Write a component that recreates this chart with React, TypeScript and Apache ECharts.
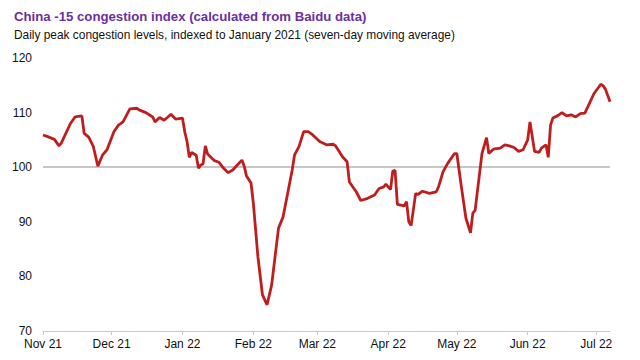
import React, { useEffect, useRef } from "react";
import * as echarts from "echarts";

// Day offset from 1 Nov 2021
const days = [
  0, 2, 5, 7, 8, 12, 14, 17, 18, 20, 22, 24, 26, 28, 31, 33, 35, 38, 41, 42,
  45, 48, 49, 51, 53, 56, 58, 61, 62, 63, 64, 65, 67, 68, 69, 70, 71, 72, 75, 77,
  79, 81, 83, 85, 87, 88, 89, 91, 92, 94, 96, 98, 100, 103, 105, 107, 109, 110, 112, 114,
  116, 118, 121, 124, 127, 128, 131, 133, 134, 137, 139, 142, 145, 147, 149, 150, 152, 153, 154, 155,
  158, 159, 160, 161, 163, 164, 166, 169, 172, 173, 175, 177, 180, 181, 183, 185, 187, 188, 189, 192,
  194, 195, 197, 200, 202, 204, 206, 208, 210, 212, 213, 215, 217, 218, 220, 221, 222, 223, 225, 227,
  229, 231, 233, 235, 237, 239, 241, 244, 245, 246, 248,
];
const congestion = [
  105.9, 105.6, 105.1, 103.9, 104.4, 108.0, 109.2, 109.4, 106.2, 105.5, 103.8, 100.2, 102.2, 103.2, 106.5, 107.7, 108.3, 110.7, 110.8, 110.5,
  110.0, 109.2, 108.3, 109.1, 108.6, 109.7, 108.8, 109.0, 106.5, 104.7, 101.8, 102.7, 102.2, 99.8, 100.4, 100.6, 103.9, 102.4, 101.2, 100.9,
  99.8, 99.0, 99.5, 100.4, 101.3, 100.2, 98.4, 97.1, 93.4, 83.6, 76.6, 74.8, 78.4, 88.8, 90.9, 95.2, 99.5, 102.2, 103.8, 106.5,
  106.5, 105.9, 104.7, 104.1, 104.2, 103.9, 101.9, 101.0, 97.3, 95.5, 93.9, 94.3, 94.9, 96.1, 96.4, 96.9, 95.9, 99.3, 99.4, 93.2,
  92.9, 93.7, 90.0, 89.3, 95.2, 95.0, 95.6, 95.2, 95.5, 96.4, 99.2, 100.7, 102.5, 102.5, 96.4, 90.6, 88.0, 91.6, 92.1, 102.5,
  105.4, 102.5, 103.3, 103.5, 104.1, 103.9, 103.6, 102.9, 103.2, 105.0, 108.3, 102.9, 102.7, 103.5, 104.1, 101.8, 107.7, 109.0, 109.4, 110.0,
  109.4, 109.6, 109.2, 109.8, 109.9, 111.7, 113.5, 115.2, 114.9, 114.3, 112.0,
];
const monthTicks = [0, 30, 61, 92, 120, 151, 181, 212, 242];
const monthLabels = ["Nov 21", "Dec 21", "Jan 22", "Feb 22", "Mar 22", "Apr 22", "May 22", "Jun 22", "Jul 22"];
const yTicks = [70, 80, 90, 100, 110, 120];

export default function App() {
  const ref = useRef<HTMLDivElement>(null);
  useEffect(() => {
    if (!ref.current) return;
    const chart = echarts.init(ref.current, null, { renderer: "svg" });
    const font = "Liberation Sans, Arial, sans-serif";
    chart.setOption({
      animation: false,
      backgroundColor: "#ffffff",
      title: [
        {
          text: "China -15 congestion index (calculated from Baidu data)",
          left: 9,
          top: 5,
          textStyle: { color: "#6b2fa0", fontSize: 13.2, fontWeight: "bold", fontFamily: font },
        },
        {
          text: "Daily peak congestion levels, indexed to January 2021 (seven-day moving average)",
          left: 9,
          top: 24,
          textStyle: { color: "#111111", fontSize: 11.9, fontWeight: "normal", fontFamily: font },
        },
      ],
      grid: { left: 43, right: 30, top: 58, bottom: 29, containLabel: false },
      xAxis: {
        type: "value",
        min: 0,
        max: 248,
        splitLine: { show: false },
        axisLine: { show: true, lineStyle: { color: "#c8c8c8", width: 1 } },
        axisTick: { show: true, customValues: monthTicks, length: 4, lineStyle: { color: "#c8c8c8" } },
        axisLabel: {
          customValues: monthTicks,
          formatter: (v: number) => monthLabels[monthTicks.indexOf(Math.round(v))] ?? "",
          color: "#111111",
          fontSize: 12,
          fontFamily: font,
          margin: 7,
        },
      },
      yAxis: {
        type: "value",
        min: 70,
        max: 120,
        interval: 10,
        splitLine: { show: false },
        axisLine: { show: false },
        axisTick: { show: false },
        axisLabel: {
          customValues: yTicks,
          color: "#111111",
          fontSize: 12,
          fontFamily: font,
          margin: 11,
        },
      },
      series: [
        {
          type: "line",
          data: days.map((d, i) => [d, congestion[i]]),
          showSymbol: false,
          lineStyle: { color: "#bf1e1e", width: 2.8 },
          z: 3,
          markLine: {
            silent: true,
            symbol: "none",
            label: { show: false },
            lineStyle: { color: "#b4b4b4", width: 1.5, type: "solid" },
            data: [{ yAxis: 100 }],
            z: 1,
          },
        },
      ],
    });
    return () => chart.dispose();
  }, []);
  return <div ref={ref} style={{ width: 640, height: 360, position: "absolute", left: 0, top: 0 }} />;
}
